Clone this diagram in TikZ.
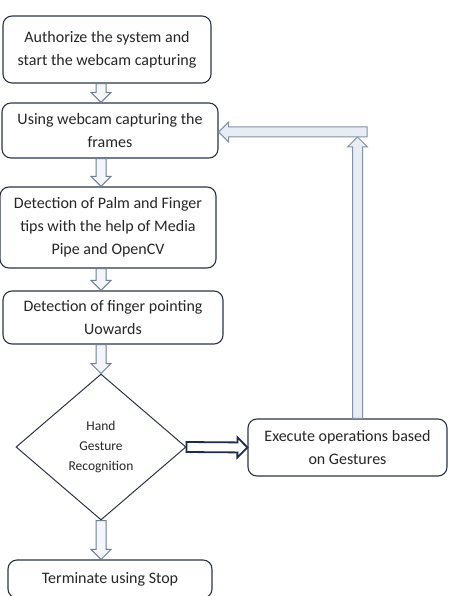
\documentclass[tikz,border=0pt]{standalone}
\usepackage{fontspec}
\setmainfont{Carlito}
\usetikzlibrary{shapes.geometric, calc}

\definecolor{boxline}{HTML}{2B3447}
\definecolor{arrline}{HTML}{6F7D96}
\definecolor{arrfill}{HTML}{F4F6FA}
\definecolor{darkarr}{HTML}{1F2B4D}
\definecolor{fbline}{HTML}{8290A8}
\definecolor{fbfill}{HTML}{E8ECF3}

% block arrow from #2 to #3
\newcommand{\blockarrow}[3][]{%
  \path[#1] let \p1=(#2), \p2=(#3),
    \n1={atan2(\y2-\y1,\x2-\x1)}, \n2={veclen(\x2-\x1,\y2-\y1)-10pt} in
    ($(\p1)+(\n1+90:5pt)$) -- ($(\p1)+(\n1:\n2)+(\n1+90:5pt)$)
    -- ($(\p1)+(\n1:\n2)+(\n1+90:10pt)$) -- (\p2)
    -- ($(\p1)+(\n1:\n2)+(\n1-90:10pt)$) -- ($(\p1)+(\n1:\n2)+(\n1-90:5pt)$)
    -- ($(\p1)+(\n1-90:5pt)$) -- cycle;}

\begin{document}
\begin{tikzpicture}[x=1pt, y=-1pt,
  stepbox/.style={draw=boxline, line width=1.1pt, rounded corners=9pt, align=center,
    inner sep=0pt, text=black!85, font=\fontsize{16}{23}\selectfont},
  decision/.style={draw=boxline, line width=1pt, diamond, align=center, inner sep=0pt,
    text=black!85, font=\fontsize{13.5}{20}\selectfont},
  downarr/.style={draw=arrline, fill=arrfill, line width=1pt, line join=miter},
  sidearr/.style={draw=darkarr, fill=white, line width=1.8pt, line join=miter},
  backarr/.style={draw=fbline, fill=fbfill, line width=1pt, line join=miter}]
  \useasboundingbox (0, 0) rectangle (448, 596);

  \node[stepbox, minimum width=208, minimum height=67] (start) at (107, 49.5)
    {Authorize the system and\\ start the webcam capturing};
  \node[stepbox, minimum width=216, minimum height=55] (frames) at (110, 130.5)
    {Using webcam capturing the\\ frames};
  \node[stepbox, minimum width=216, minimum height=81] (palm) at (108, 227.5)
    {Detection of Palm and Finger\\ tips with the help of Media\\ Pipe and OpenCV};
  \node[stepbox, minimum width=220, minimum height=53] (finger) at (113, 317.5)
    {Detection of finger pointing\\ Uowards};

  \node[decision, minimum width=170, minimum height=146] (gesture) at (101, 447)
    {Hand\\ Gesture\\ Recognition};

  \node[stepbox, minimum width=199, minimum height=57] (execute) at (347.5, 447.5)
    {Execute operations based\\ on Gestures};
  \node[stepbox, minimum width=204, minimum height=38] (stop) at (110, 579)
    {Terminate using Stop};

  \coordinate (corner) at (367, 132);
  \coordinate (upend) at (357.5, 137);

  \blockarrow[downarr]{start.south -| gesture}{frames.north -| gesture}
  \blockarrow[downarr]{frames.south -| gesture}{palm.north -| gesture}
  \blockarrow[downarr]{palm.south -| gesture}{finger.north -| gesture}
  \blockarrow[downarr]{finger.south -| gesture}{gesture.north}
  \blockarrow[downarr]{gesture.south}{stop.north -| gesture}

  \blockarrow[sidearr]{gesture.east}{execute.west}

  \blockarrow[backarr]{execute.north -| upend}{upend}
  \blockarrow[backarr]{corner}{frames.east |- corner}

\end{tikzpicture}
\end{document}
